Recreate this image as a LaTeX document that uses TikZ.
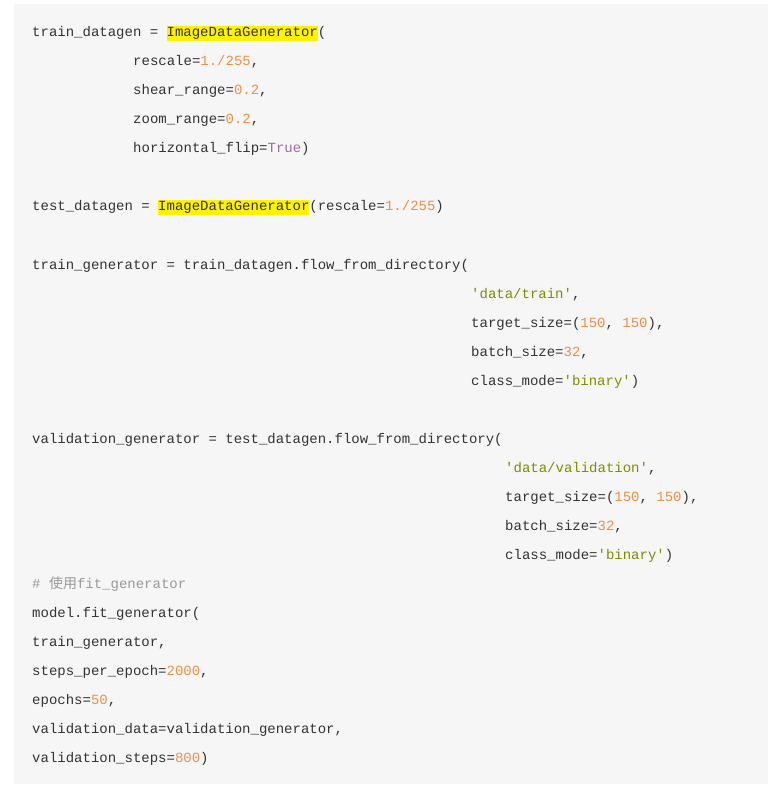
\documentclass[tikz,border=0pt]{standalone}
\usepackage{fontspec}
\setmonofont{Liberation Mono}
\newfontfamily\cjk{Noto Sans CJK SC}
\definecolor{bgc}{HTML}{F6F6F6}
\definecolor{txc}{HTML}{333333}
\definecolor{numc}{HTML}{F08D49}
\definecolor{strc}{HTML}{7F8C00}
\definecolor{kwc}{HTML}{9B6BB0}
\definecolor{cmc}{HTML}{999999}
\newcommand\cnum[1]{\textcolor{numc}{#1}}
\newcommand\cstr[1]{\textcolor{strc}{#1}}
\newcommand\ckw[1]{\textcolor{kwc}{#1}}
\newcommand\chl[1]{{\setlength\fboxsep{0pt}\colorbox{yellow}{\rule[-4pt]{0pt}{15pt}#1}}}
\begin{document}
\begin{tikzpicture}[x=1pt,y=-1pt,
  codeline/.style={anchor=base west,inner sep=0pt,font=\ttfamily\fontsize{14pt}{16pt}\selectfont,text=txc}]
\useasboundingbox (0,0) rectangle (768,786);
\fill[bgc] (14,4) rectangle (768,784);
\def\ind#1{\hspace*{#1\dimexpr 8.4pt\relax}}
\node[codeline] (l1) at (32,37) {train\_datagen = \chl{ImageDataGenerator}(};
\node[codeline] (l2) at (133,66) {rescale=\cnum{1./255},};
\node[codeline] (l3) at (133,95) {shear\_range=\cnum{0.2},};
\node[codeline] (l4) at (133,124) {zoom\_range=\cnum{0.2},};
\node[codeline] (l5) at (133,153) {horizontal\_flip=\ckw{True})};
\node[codeline] (l6) at (32,211) {test\_datagen = \chl{ImageDataGenerator}(rescale=\cnum{1./255})};
\node[codeline] (l7) at (32,269) {train\_generator = train\_datagen.flow\_from\_directory(};
\node[codeline] (l8) at (471,298) {\cstr{'data/train'},};
\node[codeline] (l9) at (471,327) {target\_size=(\cnum{150}, \cnum{150}),};
\node[codeline] (l10) at (471,356) {batch\_size=\cnum{32},};
\node[codeline] (l11) at (471,385) {class\_mode=\cstr{'binary'})};
\node[codeline] (l12) at (32,443) {validation\_generator = test\_datagen.flow\_from\_directory(};
\node[codeline] (l13) at (505,472) {\cstr{'data/validation'},};
\node[codeline] (l14) at (505,501) {target\_size=(\cnum{150}, \cnum{150}),};
\node[codeline] (l15) at (505,530) {batch\_size=\cnum{32},};
\node[codeline] (l16) at (505,559) {class\_mode=\cstr{'binary'})};
\node[codeline,text=cmc] (l17) at (32,588) {\# {\cjk\fontsize{14pt}{16pt}\selectfont 使用}fit\_generator};
\node[codeline] (l18) at (32,617) {model.fit\_generator(};
\node[codeline] (l19) at (32,646) {train\_generator,};
\node[codeline] (l20) at (32,675) {steps\_per\_epoch=\cnum{2000},};
\node[codeline] (l21) at (32,704) {epochs=\cnum{50},};
\node[codeline] (l22) at (32,733) {validation\_data=validation\_generator,};
\node[codeline] (l23) at (32,762) {validation\_steps=\cnum{800})};
\end{tikzpicture}
\end{document}
